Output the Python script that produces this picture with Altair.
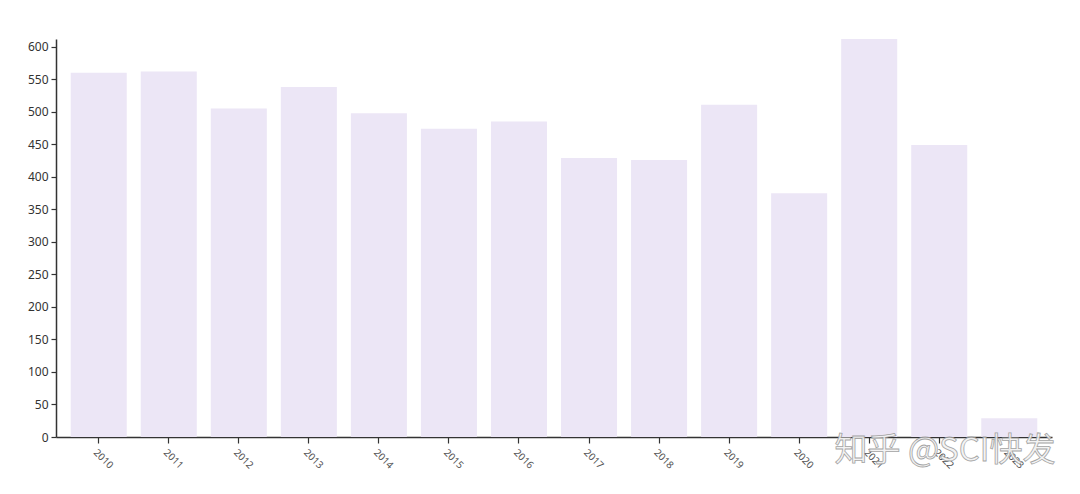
import altair as alt
import pandas as pd

years = ["2010", "2011", "2012", "2013", "2014", "2015", "2016",
         "2017", "2018", "2019", "2020", "2021", "2022", "2023"]
counts = [560, 562, 505, 538, 498, 474, 485, 429, 426, 511, 375, 612, 449, 29]
y_ticks = list(range(0, 601, 50))

df = pd.DataFrame({"year": years, "count": counts})

bars = alt.Chart(df).mark_bar(color="#ECE6F6").encode(
    x=alt.X("year:N", sort=years,
            scale=alt.Scale(paddingInner=0.2, paddingOuter=0.21),
            axis=alt.Axis(title=None, labelAngle=45, labelAlign="left",
                          labelBaseline="top", labelFontSize=10,
                          labelColor="#555555", labelPadding=4,
                          domainColor="#333333", domainWidth=1.5,
                          tickColor="#333333", tickWidth=1.2,
                          tickSize=6, labelFont="Noto Sans")),
    y=alt.Y("count:Q", scale=alt.Scale(domain=[0, max(counts)], nice=False),
            axis=alt.Axis(title=None, values=y_ticks, labelFontSize=12,
                          labelColor="#333333", domainColor="#333333",
                          domainWidth=1.5, tickColor="#333333", tickWidth=1.2,
                          tickSize=5, grid=False,
                          labelFont="Noto Sans", labelPadding=3)),
)

watermark = alt.Chart(pd.DataFrame({"t": ["知乎 @SCI快发"]})).mark_text(
    font="Noto Sans CJK SC", fontSize=33, align="center", baseline="middle",
    fill="#f2f2f2", stroke="#9a9a9a", strokeWidth=0.8, opacity=0.9,
).encode(text="t:N", x=alt.value(889), y=alt.value(412))

chart = (bars + watermark).properties(
    width=996, height=398,
    padding={"left": 48, "top": 31, "right": 20, "bottom": 49},
    autosize=alt.AutoSizeParams(type="none"),
).configure_view(stroke=None)

chart.save("out.html", embed_options={"renderer": "svg", "actions": False})
